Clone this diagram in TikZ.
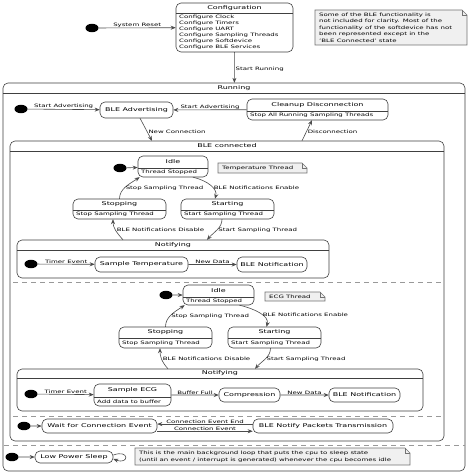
\documentclass[tikz,border=0pt]{standalone}
\usepackage{fontspec}
\setmainfont{DejaVu Sans}
\usetikzlibrary{arrows.meta}

\tikzset{
  stbox/.style={draw=black!75, fill=white, line width=0.6pt, rounded corners=5pt, inner sep=0pt, font=\fontsize{8}{9}\selectfont},
  boxw/.style={minimum width={#1*1pt}},
  boxh/.style={minimum height={#1*1.5385pt}},
  sttitle/.style={inner sep=0pt, font=\fontsize{8}{9}\selectfont},
  stbody/.style={inner sep=0pt, anchor=west, align=left, font=\fontsize{7}{9.2}\selectfont},
  initdot/.style={circle, fill=black, minimum size=13pt, inner sep=0pt},
  arr/.style={draw=black!70, line width=0.6pt, -{Stealth[length=5pt,width=4pt]}},
  lbl/.style={inner sep=1pt, font=\fontsize{7}{8}\selectfont},
  stline/.style={draw=black!75, line width=0.6pt},
  sepline/.style={draw=black!40, line width=0.7pt, dash pattern=on 5pt off 4pt},
  notebg/.style={draw=black!55, fill=black!6, line width=0.6pt},
  notetxt/.style={inner sep=0pt, anchor=west, align=left, font=\fontsize{7}{10}\selectfont},
}

% composite state: name, centre x, top, width, height, header, title
\newcommand{\compstate}[7]{%
  \node[stbox, boxw=#4, boxh=#5] (#1) at (#2,{#3+#5/2}) {};
  \draw[stline] ({#2-#4/2},{#3+#6}) -- ({#2+#4/2},{#3+#6});
  \node[sttitle] (#1-t) at (#2,{#3+#6/2}) {#7};
}
% state with body: name, centre x, top, width, height, header, title, body
\newcommand{\splitstate}[8]{%
  \compstate{#1}{#2}{#3}{#4}{#5}{#6}{#7}
  \node[stbody] (#1-b) at ({#2-#4/2+3},{#3+(#6+#5)/2}) {#8};
}
% note: name, x1, y1, x2, y2, text
\newcommand{\umlnote}[6]{%
  \filldraw[notebg] (#2,#3) -- ({#4-5},#3) -- (#4,{#3+5}) -- (#4,#5) -- (#2,#5) -- cycle;
  \draw[notebg, fill=none] ({#4-5},#3) |- (#4,{#3+5});
  \node[notetxt] (#1) at ({#2+4},{(#3+#5)/2}) {#6};
}

\begin{document}
\begin{tikzpicture}[x=1pt, y=-1.5385pt, yscale=0.65, every node/.append style={transform shape}]
  \fill[white] (0,0) rectangle (474,475);
  \useasboundingbox (0,0) rectangle (474,475);

  % top level
  \node[initdot] (i0) at (92,28) {};
  \splitstate{conf}{234.5}{3}{117}{49}{10}{Configuration}{Configure Clock\\Configure Timers\\Configure UART\\Configure Sampling Threads\\Configure Softdevice\\Configure BLE Services}
  \umlnote{note1}{315}{10}{467}{45}{Some of the BLE functionality is\\not included for clarity. Most of the\\functionality of the softdevice has not\\been represented except in the\\'BLE Connected' state}

  \compstate{running}{234}{83}{462}{388}{10}{Running}
  \draw[arr] (i0) -- node[lbl, above] (lsys) {System Reset} (conf);
  \draw[arr] (conf) -- node[lbl, right, pos=0.55] (lrun) {Start Running} (running);

  % advertising
  \node[initdot] (i1) at (21,109) {};
  \node[stbox, boxw=73, boxh=16] (adv) at (136.5,110) {BLE Advertising};
  \splitstate{cleanup}{317.5}{99}{141}{21}{12}{Cleanup Disconnection}{Stop All Running Sampling Threads}
  \draw[arr] (i1) -- node[lbl, above] (lsa1) {Start Advertising} (adv);
  \draw[arr] (cleanup) -- node[lbl, above] (lsa2) {Start Advertising} (adv);

  % connected
  \compstate{bleconn}{227}{141}{434}{300}{10}{BLE connected}
  \draw[arr] ([xshift=3.5pt]adv.south) -- node[lbl, right, pos=0.6] (lnew) {New Connection} ([xshift=-75pt]bleconn.north);
  \draw[arr] ([xshift=75pt]bleconn.north) -- node[lbl, right, pos=0.45] (ldis) {Disconnection} ([xshift=-5.5pt]cleanup.south);

  % temperature thread
  \node[initdot] (i2) at (120,168) {};
  \splitstate{idle1}{173}{156}{70}{21}{12}{Idle}{Thread Stopped}
  \umlnote{note2}{218}{163}{307}{173}{Temperature Thread}
  \splitstate{stop1}{119.5}{199}{93}{20}{11}{Stopping}{Stop Sampling Thread}
  \splitstate{start1}{227.5}{199}{93}{20}{11}{Starting}{Start Sampling Thread}
  \compstate{notif1}{173}{240}{312}{38}{10}{Notifying}
  \node[initdot] (i3) at (31,264) {};
  \node[stbox, boxw=93, boxh=15] (stemp) at (141.5,264.5) {Sample Temperature};
  \node[stbox, boxw=70, boxh=15] (bnot1) at (272,264.5) {BLE Notification};
  \draw[arr] (i2) -- (idle1);
  \draw[arr] (stop1.north) to[out=90, in=-135] node[lbl, right, pos=0.45] (lss1) {Stop Sampling Thread} ([xshift=2pt]idle1.south west);
  \draw[arr] ([xshift=20pt]idle1.south) to[out=-20, in=80] node[lbl, right, pos=0.6] (lne1) {BLE Notifications Enable} ([xshift=-12.5pt]start1.north);
  \draw[arr] ([xshift=-50pt]notif1.north) to[out=120, in=-90] node[lbl, right] (lnd1) {BLE Notifications Disable} ([xshift=-6.5pt]stop1.south);
  \draw[arr] ([xshift=-5.5pt]start1.south) to[out=-90, in=60] node[lbl, right] (lst1) {Start Sampling Thread} ([xshift=34pt]notif1.north);
  \draw[arr] (i3) -- node[lbl, above] (lte1) {Timer Event} (stemp);
  \draw[arr] (stemp) -- node[lbl, above] (lnw1) {New Data} (bnot1);
  \draw[sepline] (13,282) -- (443,282);

  % ECG thread
  \node[initdot] (i4) at (166,295) {};
  \splitstate{idle2}{218.5}{285}{71}{20}{12}{Idle}{Thread Stopped}
  \umlnote{note3}{265}{292}{325}{301}{ECG Thread}
  \splitstate{stop2}{165.5}{327}{93}{21}{11}{Stopping}{Stop Sampling Thread}
  \splitstate{start2}{274.5}{327}{93}{21}{11}{Starting}{Start Sampling Thread}
  \compstate{notif2}{220}{369}{406}{42}{9}{Notifying}
  \node[initdot] (i5) at (31,394) {};
  \splitstate{secg}{132.5}{384}{77}{22}{13}{Sample ECG}{Add data to buffer}
  \node[stbox, boxw=61, boxh=14] (compr) at (249.5,395) {Compression};
  \node[stbox, boxw=71, boxh=14] (bnot2) at (364.5,395) {BLE Notification};
  \draw[arr] (i4) -- (idle2);
  \draw[arr] (stop2.north) to[out=90, in=-135] node[lbl, right, pos=0.45] (lss2) {Stop Sampling Thread} ([xshift=2pt]idle2.south west);
  \draw[arr] ([xshift=21pt]idle2.south) to[out=-20, in=80] node[lbl, right, pos=0.55] (lne2) {BLE Notifications Enable} ([xshift=-8pt]start2.north);
  \draw[arr] ([xshift=-52pt]notif2.north) to[out=120, in=-90] node[lbl, right] (lnd2) {BLE Notifications Disable} ([xshift=-5.5pt]stop2.south);
  \draw[arr] ([xshift=-4pt]start2.south) to[out=-90, in=60] node[lbl, right] (lst2) {Start Sampling Thread} ([xshift=35pt]notif2.north);
  \draw[arr] (i5) -- node[lbl, above] (lte2) {Timer Event} (secg);
  \draw[arr] (secg) -- node[lbl, above] (lbuf) {Buffer Full} (compr);
  \draw[arr] (compr) -- node[lbl, above] (lnw2) {New Data} (bnot2);
  \draw[sepline] (13,416) -- (443,416);

  % connection events
  \node[initdot] (i6) at (24,426) {};
  \node[stbox, boxw=115, boxh=14] (waitc) at (99.5,426) {Wait for Connection Event};
  \node[stbox, boxw=140, boxh=14] (bletx) at (323,426) {BLE Notify Packets Transmission};
  \draw[arr] (i6) -- (waitc);
  \draw[arr] ([yshift=3pt]bletx.west) -- node[lbl, above] (lcee) {Connection Event End} ([yshift=3pt]waitc.east);
  \draw[arr] ([yshift=-8pt]waitc.east) -- node[lbl, above] (lce) {Connection Event} ([yshift=-8pt]bletx.west);

  % background loop
  \draw[sepline] (4,445) -- (465,445);
  \node[initdot] (i7) at (12,457) {};
  \node[stbox, boxw=78, boxh=12] (lps) at (74,457) {Low Power Sleep};
  \draw[arr] (i7) -- (lps);
  \draw[arr] ([yshift=3pt]lps.east) to[out=30, in=-30, looseness=8] ([yshift=-3pt]lps.east);
  \umlnote{note4}{135}{448}{410}{465}{This is the main background loop that puts the cpu to sleep state\\(until an event / interrupt is generated) whenever the cpu becomes idle}
\end{tikzpicture}
\end{document}
